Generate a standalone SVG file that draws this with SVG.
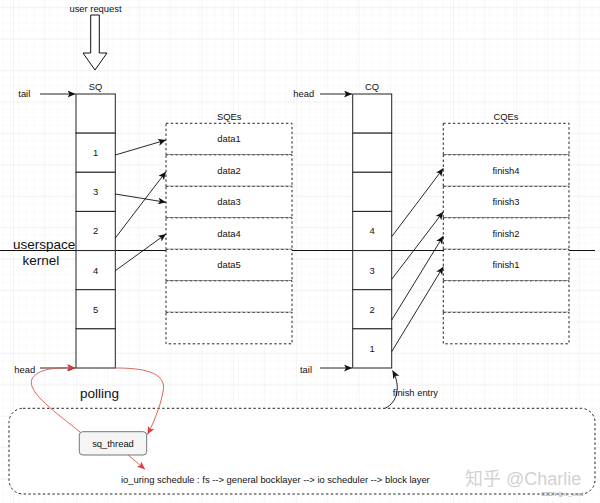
<svg xmlns="http://www.w3.org/2000/svg" width="600" height="503" viewBox="0 0 600 503">
<defs>
<pattern id="minor" width="7.857" height="7.857" patternUnits="userSpaceOnUse" x="13" y="7.3">
<path d="M0,0 H7.857 M0,0 V7.857" fill="none" stroke="#f4f4f4" stroke-width="0.8"/>
</pattern>
<pattern id="major" width="31.43" height="31.43" patternUnits="userSpaceOnUse" x="13" y="7.3">
<rect width="31.43" height="31.43" fill="url(#minor)"/>
<path d="M0,0 H31.43 M0,0 V31.43" fill="none" stroke="#e6e6e6" stroke-width="0.8"/>
</pattern>
<marker id="ah" markerUnits="userSpaceOnUse" markerWidth="10" markerHeight="8" refX="8" refY="3.5" orient="auto">
<path d="M0,0 L8,3.5 L0,7 L2,3.5 z" fill="#111"/>
</marker>
<marker id="ahr" markerUnits="userSpaceOnUse" markerWidth="10" markerHeight="8" refX="8" refY="3.5" orient="auto">
<path d="M0,0 L8,3.5 L0,7 L2,3.5 z" fill="#e03a3a"/>
</marker>
</defs>
<style>
text{font-family:"Liberation Sans",Arial,sans-serif;fill:#111}
.s{font-size:9.4px}
.m{text-anchor:middle}
.big{font-size:13.5px}
.cell{fill:#fff;stroke:#222;stroke-width:1}
.dash{fill:#fff;stroke:#222;stroke-width:1;stroke-dasharray:2.4 2.4}
.conn{fill:none;stroke:#111;stroke-width:0.9;marker-end:url(#ah)}
.red{fill:none;stroke:#d9534f;stroke-width:0.9;marker-end:url(#ahr)}
</style>
<rect width="600" height="503" fill="#fff"/>
<rect width="600" height="503" fill="url(#major)"/>

<g id="divider">
<line x1="0" y1="250.5" x2="595" y2="250.5" stroke="#111" stroke-width="1"/>
<text class="big" x="13" y="249">userspace</text>
<text class="big" x="22.5" y="264.5">kernel</text>
</g>

<g id="user-request">
<text class="s m" x="95.5" y="11.5">user request</text>
<polygon points="90.7,15 99.3,15 99.3,53 107,53 95,70 83,53 90.7,53" fill="#fff" stroke="#111" stroke-width="1"/>
</g>

<g id="SQ">
<text class="s m" x="95.5" y="90">SQ</text>
<rect class="cell" x="76" y="94" width="39.3" height="39.14"/>
<rect class="cell" x="76" y="133.14" width="39.3" height="39.14"/>
<rect class="cell" x="76" y="172.28" width="39.3" height="39.14"/>
<rect class="cell" x="76" y="211.42" width="39.3" height="39.14"/>
<rect class="cell" x="76" y="250.56" width="39.3" height="39.14"/>
<rect class="cell" x="76" y="289.7" width="39.3" height="39.14"/>
<rect class="cell" x="76" y="328.84" width="39.3" height="39.16"/>
<text class="s m" x="95.5" y="156">1</text>
<text class="s m" x="95.5" y="195.2">3</text>
<text class="s m" x="95.5" y="234.4">2</text>
<text class="s m" x="95.5" y="273.5">4</text>
<text class="s m" x="95.5" y="312.7">5</text>
</g>

<g id="SQEs">
<text class="s m" x="229.3" y="119.5">SQEs</text>
<rect class="dash" x="166" y="123.3" width="126" height="31.5"/>
<rect class="dash" x="166" y="154.8" width="126" height="31.5"/>
<rect class="dash" x="166" y="186.3" width="126" height="31.5"/>
<rect class="dash" x="166" y="217.8" width="126" height="31.5"/>
<rect class="dash" x="166" y="249.3" width="126" height="31.5"/>
<rect class="dash" x="166" y="280.8" width="126" height="31.5"/>
<rect class="dash" x="166" y="312.3" width="126" height="31.5"/>
<text class="s m" x="229" y="142.4">data1</text>
<text class="s m" x="229" y="173.9">data2</text>
<text class="s m" x="229" y="205.4">data3</text>
<text class="s m" x="229" y="236.9">data4</text>
<text class="s m" x="229" y="268.4">data5</text>
</g>

<g id="CQ">
<text class="s m" x="372" y="89.5">CQ</text>
<rect class="cell" x="352.7" y="94" width="39" height="39.14"/>
<rect class="cell" x="352.7" y="133.14" width="39" height="39.14"/>
<rect class="cell" x="352.7" y="172.28" width="39" height="39.14"/>
<rect class="cell" x="352.7" y="211.42" width="39" height="39.14"/>
<rect class="cell" x="352.7" y="250.56" width="39" height="39.14"/>
<rect class="cell" x="352.7" y="289.7" width="39" height="39.14"/>
<rect class="cell" x="352.7" y="328.84" width="39" height="39.16"/>
<text class="s m" x="372.2" y="234.4">4</text>
<text class="s m" x="372.2" y="273.5">3</text>
<text class="s m" x="372.2" y="312.7">2</text>
<text class="s m" x="372.2" y="351.8">1</text>
</g>

<g id="CQEs">
<text class="s m" x="506" y="119.5">CQEs</text>
<rect class="dash" x="443.3" y="123.3" width="125.7" height="31.5"/>
<rect class="dash" x="443.3" y="154.8" width="125.7" height="31.5"/>
<rect class="dash" x="443.3" y="186.3" width="125.7" height="31.5"/>
<rect class="dash" x="443.3" y="217.8" width="125.7" height="31.5"/>
<rect class="dash" x="443.3" y="249.3" width="125.7" height="31.5"/>
<rect class="dash" x="443.3" y="280.8" width="125.7" height="31.5"/>
<rect class="dash" x="443.3" y="312.3" width="125.7" height="31.5"/>
<text class="s m" x="506" y="173.9">finish4</text>
<text class="s m" x="506" y="205.4">finish3</text>
<text class="s m" x="506" y="236.9">finish2</text>
<text class="s m" x="506" y="268.4">finish1</text>
</g>

<g id="kernel-box">
<rect x="9" y="408.3" width="586" height="85.7" rx="14" ry="14" fill="#fff" stroke="#222" stroke-width="1" stroke-dasharray="2.4 2.4"/>
<text class="s" x="121" y="482.5">io_uring schedule : fs --&gt; general bocklayer --&gt; io scheduler --&gt; block layer</text>
</g>

<g id="sq_thread">
<rect x="79.3" y="431.7" width="67.4" height="23.3" rx="3.5" ry="3.5" fill="#f5f5f5" stroke="#666" stroke-width="0.9"/>
<text class="s m" x="113" y="447.3">sq_thread</text>
</g>

<g id="labels">
<text class="s" x="18.3" y="97.3">tail</text>
<text class="s" x="293.3" y="96.8">head</text>
<text class="s" x="14.3" y="372.6">head</text>
<text class="s" x="300" y="372.6">tail</text>
<text class="s" x="392.7" y="396">finish entry</text>
<text class="big" x="80" y="397.5">polling</text>
</g>

<g id="watermark">
<text x="465" y="484.5" style="font-family:'Liberation Sans','Noto Sans CJK SC',sans-serif;font-size:18px;fill:#d2d2d2">知乎 @Charlie</text>
<text x="541" y="495.5" style="font-size:5.5px;fill:#999">CSDN @re_smid</text>
</g>

<g id="connectors">
<line class="conn" x1="40" y1="94" x2="75.5" y2="94"/>
<line class="conn" x1="320" y1="94" x2="352" y2="94"/>
<line class="conn" x1="40" y1="368" x2="75.5" y2="368"/>
<line class="conn" x1="320" y1="368" x2="352" y2="368"/>
<line class="conn" x1="115.3" y1="155" x2="166" y2="140"/>
<line class="conn" x1="115.3" y1="194" x2="166" y2="202.3"/>
<line class="conn" x1="115.3" y1="238" x2="166" y2="171.7"/>
<line class="conn" x1="115.3" y1="270.7" x2="166" y2="234"/>
<line class="conn" x1="391.7" y1="236.7" x2="443.3" y2="168.3"/>
<line class="conn" x1="391.7" y1="279.3" x2="443.3" y2="211.7"/>
<line class="conn" x1="391.7" y1="320" x2="443.3" y2="236"/>
<line class="conn" x1="391.7" y1="351.7" x2="443.3" y2="266.7"/>
<path class="conn" d="M385,408.3 C398,402 401,386 392.5,370.5"/>
<path class="red" d="M80,432 C58,414 26,392 32,379 C37,369 56,367 75,368"/>
<path class="red" d="M115.3,368 C140,368 168,371 163,392 C160,408 153,424 147.5,434.5"/>
<line class="red" x1="128" y1="455" x2="145" y2="469.3"/>
</g>
</svg>
